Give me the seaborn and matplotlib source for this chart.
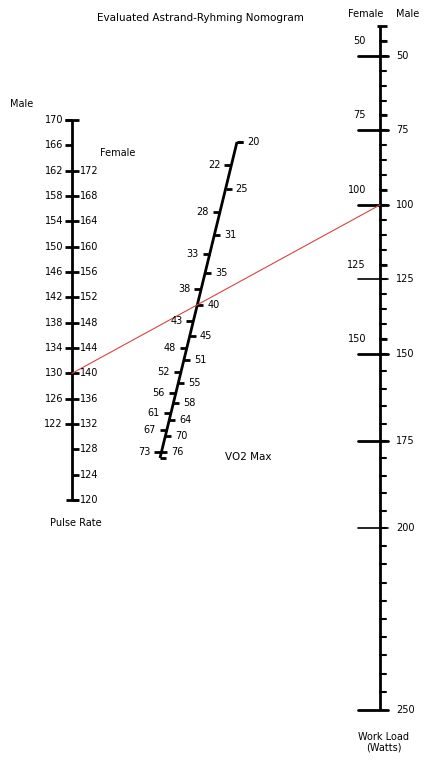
import matplotlib
matplotlib.use("Agg")
import matplotlib.pyplot as plt
import numpy as np
import seaborn as sns

sns.set_style("white")
plt.rcParams['font.family'] = ['DejaVu Sans']
plt.rcParams['text.color'] = 'black'

# Pulse rate scale (male values, female = male + 10)
pulse_male = [170, 166, 162, 158, 154, 150, 146, 142, 138, 134, 130, 126, 122]
pulse_female = [172, 168, 164, 160, 156, 152, 148, 144, 140, 136, 132, 128, 124, 120]
pulse_scale_val = [170, 110]
pulse_scale_px = [120, 500]

# VO2 max scale
vo2_right = [20, 25, 31, 35, 40, 45, 51, 55, 58, 64, 70, 76]
vo2_right_px = [142, 189, 235, 273, 305, 336, 360, 383, 403, 420, 436, 452]
vo2_left = [22, 28, 33, 38, 43, 48, 52, 56, 61, 67, 73]
vo2_left_px = [165, 212, 254, 289, 321, 348, 372, 393, 413, 430, 452]
vo2_top, vo2_bot = (237, 142), (160, 458)

# Work load scale (watts)
work_val = [40, 150, 175, 200, 250]
work_px = [26, 354, 441, 528, 710]
work_male = [50, 75, 100, 125, 150, 175, 200, 250]
work_female = [50, 75, 100, 125, 150]

# Example reading
ex_pulse, ex_work = 130, 100

def py(v):
    return np.interp(v, pulse_scale_val[::-1], pulse_scale_px[::-1])
def wy(v):
    return np.interp(v, work_val, work_px)
def vx(y):
    return vo2_top[0] + (y - vo2_top[1]) * (vo2_bot[0] - vo2_top[0]) / (vo2_bot[1] - vo2_top[1])

fig = plt.figure(figsize=(4.3, 7.62), dpi=100)
ax = fig.add_axes([0, 0, 1, 1])
ax.set_xlim(0, 430); ax.set_ylim(762, 0); ax.axis('off')
k = dict(color='black', lw=2, solid_capstyle='butt')
fs = 7

# Pulse axis
LX = 72
ax.plot([LX, LX], [py(170), py(110)], **k)
ax.plot([LX - 7, LX + 7], [py(170)] * 2, **k)
for v in pulse_male:
    y = py(v); ax.plot([LX - 7, LX], [y, y], **k)
    ax.text(LX - 9, y, str(v), ha='right', va='center', fontsize=fs)
for v in pulse_female:
    y = py(v - 10); ax.plot([LX, LX + 7], [y, y], **k)
    ax.text(LX + 8, y, str(v), ha='left', va='center', fontsize=fs)
ax.plot([LX - 6, LX + 6], [py(110)] * 2, **k)

# VO2 axis
ax.plot([vo2_top[0], vo2_bot[0]], [vo2_top[1], vo2_bot[1]], **k)
ax.plot([vo2_top[0], vo2_top[0] + 6], [vo2_top[1]] * 2, **k)
ax.plot([vo2_bot[0], vo2_bot[0] + 6], [vo2_bot[1]] * 2, **k)
for v, y in zip(vo2_right, vo2_right_px):
    x = vx(y); ax.plot([x, x + 6], [y, y], **k)
    ax.text(x + 10, y, str(v), ha='left', va='center', fontsize=fs)
for v, y in zip(vo2_left, vo2_left_px):
    x = vx(y); ax.plot([x - 7, x], [y, y], **k)
    ax.text(x - 11, y, str(v), ha='right', va='center', fontsize=fs)

# Work load axis
RX = 380
ax.plot([RX, RX], [wy(40), wy(250)], **k)
ax.plot([RX - 3, RX + 7], [wy(40)] * 2, **k)
for v in range(45, 250, 5):
    y = wy(v); ax.plot([RX, RX + 6], [y, y], color='black', lw=1.5)
for v in work_male:
    y = wy(v)
    lw = 1.2 if v in (125, 200) else 2
    ax.plot([RX - 22, RX + 8], [y, y], color='black', lw=lw)
    ax.text(RX + 16, y, str(v), ha='left', va='center', fontsize=fs)
for v in work_female:
    y = wy(v - 5); ax.plot([RX, RX + 7], [y, y], **k)
    ax.text(RX - 14, y, str(v), ha='right', va='center', fontsize=fs)

# Example line
sns.lineplot(x=[LX, RX], y=[py(ex_pulse), wy(ex_work)], ax=ax, color='#d9443f', lw=0.8)

# Labels
ax.text(200, 18, 'Evaluated Astrand-Ryhming Nomogram', ha='center', va='center', fontsize=7.5)
ax.text(22, 104, 'Male', ha='center', va='center', fontsize=fs)
ax.text(118, 153, 'Female', ha='center', va='center', fontsize=fs)
ax.text(76, 523, 'Pulse Rate', ha='center', va='center', fontsize=fs)
ax.text(248, 457, 'VO2 Max', ha='center', va='center', fontsize=7.5)
ax.text(366, 14, 'Female', ha='center', va='center', fontsize=fs)
ax.text(408, 14, 'Male', ha='center', va='center', fontsize=fs)
ax.text(384, 742, 'Work Load\n(Watts)', ha='center', va='center', fontsize=fs, linespacing=1.1)

fig.savefig('out.png', dpi=100)
